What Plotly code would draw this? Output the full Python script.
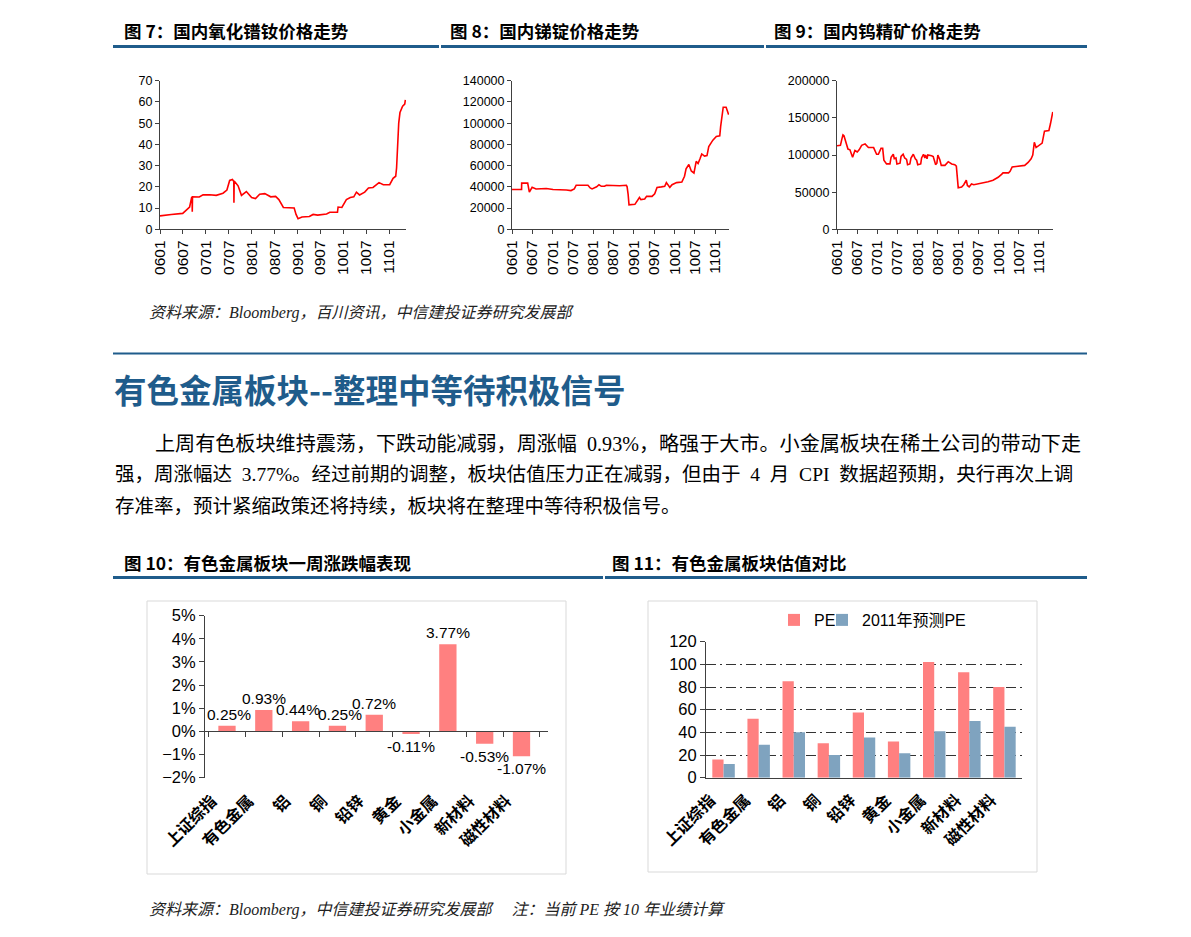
import plotly.graph_objects as go

W, H = 1191, 937


def fx(p):
    return p / W


def fy(p):
    return 1 - p / H


# ---------------- data ----------------
month_ticks = ['2006-01-01', '2006-07-01', '2007-01-01', '2007-07-01', '2008-01-01', '2008-07-01',
               '2009-01-01', '2009-07-01', '2010-01-01', '2010-07-01', '2011-01-01']
month_labels = ['0601', '0607', '0701', '0707', '0801', '0807', '0901', '0907', '1001', '1007', '1101']

# 图7 国内氧化镨钕价格 (万元/吨)
ndpr_dates = ['2006-01-01', '2006-02-15', '2006-04-01', '2006-07-01', '2006-08-01', '2006-08-25', '2006-09-10',
              '2006-09-14', '2006-09-15', '2006-09-17', '2006-11-10', '2006-12-10', '2007-02-01', '2007-03-25',
              '2007-05-18', '2007-06-18', '2007-07-10', '2007-08-01', '2007-08-12', '2007-08-13', '2007-08-15',
              '2007-09-15', '2007-10-12', '2007-11-20', '2008-01-01', '2008-02-01', '2008-03-05', '2008-04-15',
              '2008-06-01', '2008-07-10', '2008-08-05', '2008-09-10', '2008-12-05', '2008-12-20', '2009-01-05',
              '2009-02-05', '2009-04-05', '2009-05-05', '2009-06-10', '2009-08-20', '2009-09-15', '2009-11-15',
              '2009-11-20', '2009-12-20', '2010-01-25', '2010-02-25', '2010-03-25', '2010-04-15', '2010-05-10',
              '2010-06-20', '2010-07-20', '2010-08-25', '2010-10-12', '2010-11-15', '2011-01-05', '2011-02-01',
              '2011-02-22', '2011-03-01', '2011-03-18', '2011-03-28', '2011-04-18', '2011-05-05', '2011-05-10']
ndpr_price = [6.3, 6.5, 7.0, 7.5, 9.0, 10.5, 15.0,
              15.0, 8.3, 15.3, 15.2, 16.2, 16.3, 16.0,
              17.0, 18.5, 23.0, 23.5, 22.5, 12.5, 22.8,
              20.5, 16.0, 17.8, 15.0, 14.5, 16.5, 16.8,
              15.3, 15.5, 14.0, 10.3, 10.0, 7.0, 5.0,
              5.8, 6.0, 7.0, 6.7, 7.2, 8.0, 8.0,
              10.5, 10.3, 14.0, 15.0, 15.3, 17.5, 16.2,
              17.5, 19.5, 19.7, 22.0, 21.0, 21.0, 24.0,
              25.0, 29.0, 50.0, 55.0, 58.0, 59.0, 61.0]

# 图8 国内锑锭价格 (元/吨)
sb_dates = ['2006-01-01', '2006-03-28', '2006-03-29', '2006-05-22', '2006-06-06', '2006-07-01', '2006-08-05',
            '2006-10-20', '2006-11-05', '2007-01-05', '2007-03-05', '2007-05-05', '2007-06-15', '2007-07-15',
            '2007-08-01', '2007-11-15', '2007-12-05', '2007-12-22', '2008-02-01', '2008-02-22', '2008-03-15',
            '2008-04-12', '2008-04-28', '2008-08-25', '2008-10-25', '2008-11-01', '2008-11-10', '2008-11-18',
            '2009-01-10', '2009-02-01', '2009-02-20', '2009-03-05', '2009-04-08', '2009-04-25', '2009-06-13',
            '2009-07-07', '2009-07-28', '2009-09-05', '2009-10-05', '2009-10-20', '2009-11-20', '2009-12-10',
            '2010-01-20', '2010-03-08', '2010-04-01', '2010-04-15', '2010-05-10', '2010-06-01', '2010-06-25',
            '2010-07-15', '2010-08-01', '2010-08-20', '2010-09-03', '2010-09-28', '2010-10-20', '2010-11-05',
            '2010-12-12', '2011-01-12', '2011-02-12', '2011-02-20', '2011-03-05', '2011-03-15', '2011-04-10',
            '2011-05-03']
sb_price = [37500, 37500, 43500, 43500, 35000, 39500, 38000,
            38000, 38500, 37500, 37500, 37000, 36500, 38000,
            41500, 41500, 39000, 38000, 40000, 42000, 40500,
            40500, 41500, 41000, 41500, 40000, 33000, 23000,
            23500, 27000, 30000, 28000, 28500, 31000, 31000,
            33500, 39500, 40000, 40500, 44000, 39500, 42000,
            44000, 44500, 50000, 57000, 61000, 55000, 53000,
            64000, 62000, 67000, 71000, 69000, 69500, 78000,
            84000, 87500, 88000, 97000, 105000, 115000, 115000,
            108000]

# 图9 国内钨精矿价格 (元/吨)
w_dates = ['2006-01-01', '2006-02-01', '2006-02-15', '2006-02-24', '2006-03-05', '2006-03-25', '2006-04-10',
           '2006-04-28', '2006-05-22', '2006-06-12', '2006-07-03', '2006-07-20', '2006-08-12', '2006-09-12',
           '2006-10-12', '2006-11-28', '2006-12-25', '2007-01-10', '2007-02-03', '2007-02-18', '2007-03-01',
           '2007-03-25', '2007-04-25', '2007-05-05', '2007-05-25', '2007-06-03', '2007-06-18', '2007-06-27',
           '2007-07-25', '2007-08-03', '2007-08-22', '2007-09-05', '2007-09-22', '2007-10-01', '2007-10-22',
           '2007-11-01', '2007-11-22', '2007-12-10', '2007-12-22', '2008-01-01', '2008-01-28', '2008-02-05',
           '2008-02-22', '2008-03-05', '2008-03-12', '2008-03-25', '2008-04-01', '2008-05-05', '2008-05-20',
           '2008-06-05', '2008-06-10', '2008-06-22', '2008-07-01', '2008-07-18', '2008-08-01', '2008-09-03',
           '2008-10-03', '2008-11-03', '2008-12-01', '2008-12-15', '2008-12-25', '2009-01-01', '2009-02-01',
           '2009-02-20', '2009-03-15', '2009-03-25', '2009-04-10', '2009-05-01', '2009-05-22', '2009-07-01',
           '2009-08-13', '2009-09-28', '2009-11-12', '2009-12-28', '2010-01-28', '2010-02-10', '2010-04-01',
           '2010-04-15', '2010-05-04', '2010-07-25', '2010-08-25', '2010-09-25', '2010-10-22', '2010-11-06',
           '2010-11-20', '2010-12-06', '2011-01-05', '2011-01-30', '2011-02-20', '2011-04-01', '2011-04-15',
           '2011-05-01', '2011-05-06']
w_price = [112500, 113000, 122000, 127000, 126000, 115000, 108000,
           107000, 97000, 106000, 104000, 107000, 113000, 115000,
           110000, 110000, 101000, 101000, 109000, 109000, 93000,
           88000, 88000, 97000, 101000, 95000, 96000, 88000,
           89000, 98000, 101000, 96000, 94000, 87000, 88000,
           96000, 101000, 95000, 93000, 87000, 88000, 96000,
           101000, 96000, 100000, 95000, 100000, 99000, 98000,
           90000, 87000, 89000, 100000, 94000, 86000, 86000,
           91000, 88000, 87000, 85000, 60000, 56000, 57000,
           60000, 66000, 59000, 57000, 61000, 60000, 61000,
           63000, 64000, 66000, 70000, 74000, 76000, 76000,
           78000, 84000, 85000, 86000, 90000, 95000, 100000,
           117000, 110000, 113000, 116000, 132000, 133000, 142000,
           155000, 158000]

# 图10 / 图11
sectors = ['上证综指', '有色金属', '铝', '铜', '铅锌', '黄金', '小金属', '新材料', '磁性材料']
week_change = [0.25, 0.93, 0.44, 0.25, 0.72, -0.11, 3.77, -0.53, -1.07]
pe_current = [16, 52, 85, 30.5, 57.5, 32, 102, 93, 80]
pe_2011 = [12, 29, 40, 20, 35.5, 21.5, 41, 50, 45]

# small horizontal nudges (px) of the value labels, so neighbouring labels do not collide
label_nudge = [2, 0, -3, 3, 0, 0, 0, 0, 0]

# ---------------- styles ----------------
NUM_FONT = 'Liberation Sans, Arial, sans-serif'
CJK = 'Noto Sans CJK SC'
SERIF = 'Liberation Serif, Noto Sans CJK SC'
BLUE = '#1F5C8B'
RED_LINE = '#FF0000'
PINK = '#FF8080'
STEEL = '#7FA3BF'
AX = '#404040'

fig = go.Figure()

line_sets = [(ndpr_dates, ndpr_price, 'x', 'y'), (sb_dates, sb_price, 'x2', 'y2'), (w_dates, w_price, 'x3', 'y3')]
for d, v, xa, ya in line_sets:
    fig.add_trace(go.Scatter(x=d, y=v, mode='lines', line=dict(color=RED_LINE, width=1.6),
                             xaxis=xa, yaxis=ya, showlegend=False, hoverinfo='skip'))

fig.add_trace(go.Bar(x=sectors, y=week_change, marker=dict(color=PINK, line=dict(width=0)), width=0.47,
                     xaxis='x4', yaxis='y4', showlegend=False))
for cat, v, dx in zip(sectors, week_change, label_nudge):
    fig.add_annotation(x=cat, y=v, xref='x4', yref='y4', text=f'{v:.2f}%', showarrow=False,
                       yanchor='bottom' if v >= 0 else 'top', yshift=1 if v >= 0 else -2, xshift=dx,
                       font=dict(family=NUM_FONT, size=15.5, color='#000'))

fig.add_trace(go.Bar(x=sectors, y=pe_current, name='PE', marker=dict(color=PINK, line=dict(width=0)),
                     xaxis='x5', yaxis='y5', legend='legend'))
fig.add_trace(go.Bar(x=sectors, y=pe_2011, name='2011年预测PE', marker=dict(color=STEEL, line=dict(width=0)),
                     xaxis='x5', yaxis='y5', legend='legend2'))


def date_x(x0, x1, end):
    return dict(domain=[fx(x0), fx(x1)], type='date', range=['2006-01-01', end], automargin=False,
                tickmode='array', tickvals=month_ticks, ticktext=month_labels, tickangle=-90,
                ticks='outside', ticklen=4, tickcolor=AX, showline=True, linecolor=AX, linewidth=1,
                showgrid=False, zeroline=False, tickfont=dict(family=NUM_FONT, size=15.5, color='#000'))


def val_y(top, dtick, xa):
    return dict(domain=[fy(229.3), fy(80.7)], range=[0, top], dtick=dtick, anchor=xa, automargin=False,
                ticks='outside', ticklen=4, tickcolor=AX, showline=True, linecolor=AX, linewidth=1,
                tickformat='d', exponentformat='none', showgrid=False, zeroline=False,
                tickfont=dict(family=NUM_FONT, size=12.5, color='#000'))


yr10 = [-2, 5]
d10 = [fy(777.7), fy(615.7)]
zero_pos10 = d10[0] + (0 - yr10[0]) / (yr10[1] - yr10[0]) * (d10[1] - d10[0])

fig.update_layout(
    width=W, height=H, margin=dict(l=0, r=0, t=0, b=0, autoexpand=False),
    paper_bgcolor='white', plot_bgcolor='rgba(0,0,0,0)',
    barmode='group', bargap=0.36, bargroupgap=0,
    xaxis=dict(date_x(160, 406, '2011-05-15'), anchor='y'),
    yaxis=val_y(70, 10, 'x'),
    xaxis2=dict(date_x(512, 729, '2011-05-06'), anchor='y2'),
    yaxis2=val_y(140000, 20000, 'x2'),
    xaxis3=dict(date_x(837, 1053, '2011-05-08'), anchor='y3'),
    yaxis3=val_y(200000, 50000, 'x3'),
    xaxis4=dict(domain=[fx(205), fx(548)], anchor='free', position=zero_pos10, type='category', automargin=False,
                showline=True, linecolor=AX, linewidth=1, ticks='outside', tickson='boundaries', ticklen=5,
                tickcolor=AX, tickangle=-45, ticklabelstandoff=53, ticklabelshift=-15, showgrid=False,
                tickfont=dict(family=CJK, size=16, color='#000', weight='bold')),
    yaxis4=dict(domain=d10, range=yr10, dtick=1, anchor='x4', ticksuffix='%', ticks='outside', ticklen=5,
                automargin=False, tickcolor=AX, showline=True, linecolor=AX, linewidth=1, showgrid=False,
                zeroline=False, tickfont=dict(family=NUM_FONT, size=16.5, color='#000')),
    xaxis5=dict(domain=[fx(706), fx(1022)], anchor='y5', type='category', showline=True, linecolor=AX,
                automargin=False, linewidth=1, ticks='', tickangle=-45, ticklabelstandoff=6,
                ticklabelshift=-13, showgrid=False,
                tickfont=dict(family=CJK, size=16, color='#000', weight='bold')),
    yaxis5=dict(domain=[fy(777.7), fy(641.7)], range=[0, 120], dtick=20, anchor='x5', ticks='outside',
                automargin=False, ticklen=5, tickcolor=AX, showline=True, linecolor=AX, linewidth=1,
                showgrid=True, gridcolor='#333333', gridwidth=1, griddash='10px,4px,2px,4px', zeroline=False,
                tickfont=dict(family=NUM_FONT, size=16.5, color='#000')),
    legend=dict(x=fx(774), y=fy(620), xanchor='left', yanchor='middle', orientation='h',
                bgcolor='rgba(0,0,0,0)', font=dict(family=NUM_FONT + ', ' + CJK, size=16, color='#000')),
    legend2=dict(x=fx(822), y=fy(620), xanchor='left', yanchor='middle', orientation='h',
                 bgcolor='rgba(0,0,0,0)', font=dict(family=NUM_FONT + ', ' + CJK, size=16, color='#000')),
)

shapes = []
for (a, b, y, w) in [(113, 439, 46.5, 3), (441, 764, 46.5, 3), (766, 1087, 46.5, 3),
                     (113, 1087, 353.5, 2), (113, 603, 577.5, 3), (605, 1087, 577.5, 3)]:
    shapes.append(dict(type='line', xref='paper', yref='paper', x0=fx(a), x1=fx(b), y0=fy(y), y1=fy(y),
                       line=dict(color=BLUE, width=w)))
for (a, b, t, bt) in [(147, 566, 601, 874), (648, 1037, 601, 872)]:
    shapes.append(dict(type='rect', xref='paper', yref='paper', x0=fx(a), x1=fx(b), y0=fy(bt), y1=fy(t),
                       line=dict(color='#D9D9D9', width=1), fillcolor='rgba(0,0,0,0)', layer='below'))
fig.update_layout(shapes=shapes)


def note(text, x, y, size, family, color='#000', bold=False, italic=False):
    fig.add_annotation(text=text, x=fx(x), y=fy(y), xref='paper', yref='paper', xanchor='left',
                       yanchor='middle', showarrow=False,
                       font=dict(family=family, size=size, color=color, weight='bold' if bold else 'normal',
                                 style='italic' if italic else 'normal'))


SP = '&nbsp;'
note('图 7：国内氧化镨钕价格走势', 122, 30, 17.5, CJK, bold=True)
note('图 8：国内锑锭价格走势', 448, 30, 17.5, CJK, bold=True)
note('图 9：国内钨精矿价格走势', 772, 30, 17.5, CJK, bold=True)
note('资料来源：Bloomberg，百川资讯，中信建投证券研究发展部', 147, 313, 16, SERIF, color='#222', italic=True)
note('有色金属板块--整理中等待积极信号', 112, 389, 32.5, CJK, color=BLUE, bold=True)
note('上周有色板块维持震荡，下跌动能减弱，周涨幅' + SP * 2 + '0.93%，略强于大市。小金属板块在稀土公司的带动下走',
     153, 444, 20.1, SERIF)
note('强，周涨幅达' + SP * 2 + '3.77%。经过前期的调整，板块估值压力正在减弱，但由于' + SP * 2 + '4' + SP * 2
     + '月' + SP * 2 + 'CPI' + SP * 2 + '数据超预期，央行再次上调', 113, 475, 19.5, SERIF)
note('存准率，预计紧缩政策还将持续，板块将在整理中等待积极信号。', 113, 506, 19.5, SERIF)
note('图 10：有色金属板块一周涨跌幅表现', 122, 562, 17.5, CJK, bold=True)
note('图 11：有色金属板块估值对比', 610, 562, 17.5, CJK, bold=True)
note('资料来源：Bloomberg，中信建投证券研究发展部' + SP * 5 + '注：当前 PE 按 10 年业绩计算',
     147, 910, 16, SERIF, color='#222', italic=True)

fig.write_html('out.html')
